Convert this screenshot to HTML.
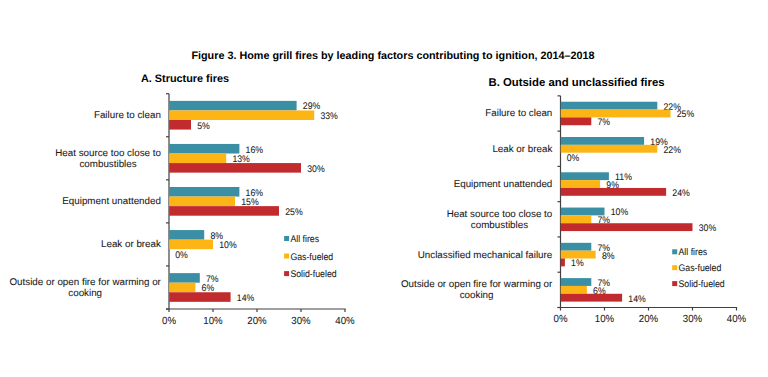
<!DOCTYPE html>
<html><head><meta charset="utf-8"><style>
html,body{margin:0;padding:0;background:#fff;width:768px;height:377px;overflow:hidden}
svg{display:block}
text{font-family:"Liberation Sans",sans-serif;text-rendering:geometricPrecision}
text.r{stroke:#1a1a1a;stroke-width:0.07px}
</style></head><body>
<svg width="768" height="377" viewBox="0 0 768 377">
<text x="393.00" y="58.60" font-size="10.8" text-anchor="middle" font-weight="bold" fill="#000" >Figure 3. Home grill fires by leading factors contributing to ignition, 2014–2018</text>
<text x="185.00" y="81.80" font-size="10.87" text-anchor="middle" font-weight="bold" fill="#000" >A. Structure fires</text>
<text x="576.50" y="86.30" font-size="11.37" text-anchor="middle" font-weight="bold" fill="#000" >B. Outside and unclassified fires</text>
<line x1="169.00" y1="93.70" x2="169.00" y2="312.00" stroke="#404040" stroke-width="1.2"/>
<line x1="166.00" y1="309.00" x2="345.60" y2="309.00" stroke="#404040" stroke-width="1.2"/>
<line x1="166.00" y1="93.70" x2="169.00" y2="93.70" stroke="#404040" stroke-width="1.2"/>
<line x1="166.00" y1="136.76" x2="169.00" y2="136.76" stroke="#404040" stroke-width="1.2"/>
<line x1="166.00" y1="179.82" x2="169.00" y2="179.82" stroke="#404040" stroke-width="1.2"/>
<line x1="166.00" y1="222.88" x2="169.00" y2="222.88" stroke="#404040" stroke-width="1.2"/>
<line x1="166.00" y1="265.94" x2="169.00" y2="265.94" stroke="#404040" stroke-width="1.2"/>
<line x1="166.00" y1="309.00" x2="169.00" y2="309.00" stroke="#404040" stroke-width="1.2"/>
<text class="r" transform="translate(169.00,323.80) scale(0.94,1)" font-size="10.3" text-anchor="middle" font-weight="normal" fill="#1a1a1a" >0%</text>
<line x1="213.00" y1="309.00" x2="213.00" y2="312.00" stroke="#404040" stroke-width="1.2"/>
<text class="r" transform="translate(213.00,323.80) scale(0.94,1)" font-size="10.3" text-anchor="middle" font-weight="normal" fill="#1a1a1a" >10%</text>
<line x1="257.00" y1="309.00" x2="257.00" y2="312.00" stroke="#404040" stroke-width="1.2"/>
<text class="r" transform="translate(257.00,323.80) scale(0.94,1)" font-size="10.3" text-anchor="middle" font-weight="normal" fill="#1a1a1a" >20%</text>
<line x1="301.00" y1="309.00" x2="301.00" y2="312.00" stroke="#404040" stroke-width="1.2"/>
<text class="r" transform="translate(301.00,323.80) scale(0.94,1)" font-size="10.3" text-anchor="middle" font-weight="normal" fill="#1a1a1a" >30%</text>
<line x1="345.00" y1="309.00" x2="345.00" y2="312.00" stroke="#404040" stroke-width="1.2"/>
<text class="r" transform="translate(345.00,323.80) scale(0.94,1)" font-size="10.3" text-anchor="middle" font-weight="normal" fill="#1a1a1a" >40%</text>
<rect x="169.20" y="100.88" width="127.40" height="9.57" fill="#3a8fa4"/>
<text class="r" transform="translate(302.80,109.46) scale(0.92,1)" font-size="9.5" text-anchor="start" font-weight="normal" fill="#1a1a1a" >29%</text>
<rect x="169.20" y="110.45" width="145.00" height="9.57" fill="#fdb515"/>
<text class="r" transform="translate(320.40,119.03) scale(0.92,1)" font-size="9.5" text-anchor="start" font-weight="normal" fill="#1a1a1a" >33%</text>
<rect x="169.20" y="120.01" width="21.80" height="9.57" fill="#c22b2e"/>
<text class="r" transform="translate(197.20,128.60) scale(0.92,1)" font-size="9.5" text-anchor="start" font-weight="normal" fill="#1a1a1a" >5%</text>
<text class="r" x="127.40" y="118.18" font-size="9.8" text-anchor="middle" font-weight="normal" fill="#1a1a1a" >Failure to clean</text>
<rect x="169.20" y="143.94" width="70.20" height="9.57" fill="#3a8fa4"/>
<text class="r" transform="translate(245.60,152.52) scale(0.92,1)" font-size="9.5" text-anchor="start" font-weight="normal" fill="#1a1a1a" >16%</text>
<rect x="169.20" y="153.51" width="57.00" height="9.57" fill="#fdb515"/>
<text class="r" transform="translate(232.40,162.09) scale(0.92,1)" font-size="9.5" text-anchor="start" font-weight="normal" fill="#1a1a1a" >13%</text>
<rect x="169.20" y="163.07" width="131.80" height="9.57" fill="#c22b2e"/>
<text class="r" transform="translate(307.20,171.66) scale(0.92,1)" font-size="9.5" text-anchor="start" font-weight="normal" fill="#1a1a1a" >30%</text>
<text class="r" x="108.06" y="155.67" font-size="9.8" text-anchor="middle" font-weight="normal" fill="#1a1a1a" >Heat source too close to</text>
<text class="r" x="108.06" y="166.81" font-size="9.8" text-anchor="middle" font-weight="normal" fill="#1a1a1a" >combustibles</text>
<rect x="169.20" y="187.00" width="70.20" height="9.57" fill="#3a8fa4"/>
<text class="r" transform="translate(245.60,195.58) scale(0.92,1)" font-size="9.5" text-anchor="start" font-weight="normal" fill="#1a1a1a" >16%</text>
<rect x="169.20" y="196.57" width="65.80" height="9.57" fill="#fdb515"/>
<text class="r" transform="translate(241.20,205.15) scale(0.92,1)" font-size="9.5" text-anchor="start" font-weight="normal" fill="#1a1a1a" >15%</text>
<rect x="169.20" y="206.13" width="109.80" height="9.57" fill="#c22b2e"/>
<text class="r" transform="translate(285.20,214.72) scale(0.92,1)" font-size="9.5" text-anchor="start" font-weight="normal" fill="#1a1a1a" >25%</text>
<text class="r" x="111.59" y="204.30" font-size="9.8" text-anchor="middle" font-weight="normal" fill="#1a1a1a" >Equipment unattended</text>
<rect x="169.20" y="230.06" width="35.00" height="9.57" fill="#3a8fa4"/>
<text class="r" transform="translate(210.40,238.64) scale(0.92,1)" font-size="9.5" text-anchor="start" font-weight="normal" fill="#1a1a1a" >8%</text>
<rect x="169.20" y="239.63" width="43.80" height="9.57" fill="#fdb515"/>
<text class="r" transform="translate(219.20,248.21) scale(0.92,1)" font-size="9.5" text-anchor="start" font-weight="normal" fill="#1a1a1a" >10%</text>
<text class="r" transform="translate(175.20,257.78) scale(0.92,1)" font-size="9.5" text-anchor="start" font-weight="normal" fill="#1a1a1a" >0%</text>
<text class="r" x="130.94" y="247.36" font-size="9.8" text-anchor="middle" font-weight="normal" fill="#1a1a1a" >Leak or break</text>
<rect x="169.20" y="273.12" width="30.60" height="9.57" fill="#3a8fa4"/>
<text class="r" transform="translate(206.00,281.70) scale(0.92,1)" font-size="9.5" text-anchor="start" font-weight="normal" fill="#1a1a1a" >7%</text>
<rect x="169.20" y="282.69" width="26.20" height="9.57" fill="#fdb515"/>
<text class="r" transform="translate(201.60,291.27) scale(0.92,1)" font-size="9.5" text-anchor="start" font-weight="normal" fill="#1a1a1a" >6%</text>
<rect x="169.20" y="292.25" width="61.40" height="9.57" fill="#c22b2e"/>
<text class="r" transform="translate(236.80,300.84) scale(0.92,1)" font-size="9.5" text-anchor="start" font-weight="normal" fill="#1a1a1a" >14%</text>
<text class="r" x="85.19" y="284.85" font-size="9.8" text-anchor="middle" font-weight="normal" fill="#1a1a1a" >Outside or open fire for warming or</text>
<text class="r" x="85.19" y="296.00" font-size="9.8" text-anchor="middle" font-weight="normal" fill="#1a1a1a" >cooking</text>
<rect x="284.10" y="236.00" width="5.00" height="5.00" fill="#3a8fa4"/>
<text class="r" transform="translate(290.40,242.00) scale(0.912,1)" font-size="9.6" text-anchor="start" font-weight="normal" fill="#1a1a1a" >All fires</text>
<rect x="284.10" y="253.55" width="5.00" height="5.00" fill="#fdb515"/>
<text class="r" transform="translate(290.40,259.55) scale(0.912,1)" font-size="9.6" text-anchor="start" font-weight="normal" fill="#1a1a1a" >Gas-fueled</text>
<rect x="284.10" y="271.10" width="5.00" height="5.00" fill="#c22b2e"/>
<text class="r" transform="translate(290.40,277.10) scale(0.912,1)" font-size="9.6" text-anchor="start" font-weight="normal" fill="#1a1a1a" >Solid-fueled</text>
<line x1="560.50" y1="95.85" x2="560.50" y2="310.50" stroke="#404040" stroke-width="1.2"/>
<line x1="557.50" y1="307.50" x2="737.10" y2="307.50" stroke="#404040" stroke-width="1.2"/>
<line x1="557.50" y1="95.85" x2="560.50" y2="95.85" stroke="#404040" stroke-width="1.2"/>
<line x1="557.50" y1="131.12" x2="560.50" y2="131.12" stroke="#404040" stroke-width="1.2"/>
<line x1="557.50" y1="166.40" x2="560.50" y2="166.40" stroke="#404040" stroke-width="1.2"/>
<line x1="557.50" y1="201.67" x2="560.50" y2="201.67" stroke="#404040" stroke-width="1.2"/>
<line x1="557.50" y1="236.95" x2="560.50" y2="236.95" stroke="#404040" stroke-width="1.2"/>
<line x1="557.50" y1="272.23" x2="560.50" y2="272.23" stroke="#404040" stroke-width="1.2"/>
<line x1="557.50" y1="307.50" x2="560.50" y2="307.50" stroke="#404040" stroke-width="1.2"/>
<text class="r" transform="translate(560.50,322.30) scale(0.94,1)" font-size="10.3" text-anchor="middle" font-weight="normal" fill="#1a1a1a" >0%</text>
<line x1="604.50" y1="307.50" x2="604.50" y2="310.50" stroke="#404040" stroke-width="1.2"/>
<text class="r" transform="translate(604.50,322.30) scale(0.94,1)" font-size="10.3" text-anchor="middle" font-weight="normal" fill="#1a1a1a" >10%</text>
<line x1="648.50" y1="307.50" x2="648.50" y2="310.50" stroke="#404040" stroke-width="1.2"/>
<text class="r" transform="translate(648.50,322.30) scale(0.94,1)" font-size="10.3" text-anchor="middle" font-weight="normal" fill="#1a1a1a" >20%</text>
<line x1="692.50" y1="307.50" x2="692.50" y2="310.50" stroke="#404040" stroke-width="1.2"/>
<text class="r" transform="translate(692.50,322.30) scale(0.94,1)" font-size="10.3" text-anchor="middle" font-weight="normal" fill="#1a1a1a" >30%</text>
<line x1="736.50" y1="307.50" x2="736.50" y2="310.50" stroke="#404040" stroke-width="1.2"/>
<text class="r" transform="translate(736.50,322.30) scale(0.94,1)" font-size="10.3" text-anchor="middle" font-weight="normal" fill="#1a1a1a" >40%</text>
<rect x="560.70" y="101.73" width="96.60" height="7.84" fill="#3a8fa4"/>
<text class="r" transform="translate(663.50,109.65) scale(0.92,1)" font-size="9.5" text-anchor="start" font-weight="normal" fill="#1a1a1a" >22%</text>
<rect x="560.70" y="109.57" width="109.80" height="7.84" fill="#fdb515"/>
<text class="r" transform="translate(676.70,117.49) scale(0.92,1)" font-size="9.5" text-anchor="start" font-weight="normal" fill="#1a1a1a" >25%</text>
<rect x="560.70" y="117.41" width="30.60" height="7.84" fill="#c22b2e"/>
<text class="r" transform="translate(597.50,125.33) scale(0.92,1)" font-size="9.5" text-anchor="start" font-weight="normal" fill="#1a1a1a" >7%</text>
<text class="r" x="518.80" y="116.44" font-size="9.8" text-anchor="middle" font-weight="normal" fill="#1a1a1a" >Failure to clean</text>
<rect x="560.70" y="137.00" width="83.40" height="7.84" fill="#3a8fa4"/>
<text class="r" transform="translate(650.30,144.92) scale(0.92,1)" font-size="9.5" text-anchor="start" font-weight="normal" fill="#1a1a1a" >19%</text>
<rect x="560.70" y="144.84" width="96.60" height="7.84" fill="#fdb515"/>
<text class="r" transform="translate(663.50,152.76) scale(0.92,1)" font-size="9.5" text-anchor="start" font-weight="normal" fill="#1a1a1a" >22%</text>
<text class="r" transform="translate(566.70,160.60) scale(0.92,1)" font-size="9.5" text-anchor="start" font-weight="normal" fill="#1a1a1a" >0%</text>
<text class="r" x="522.34" y="151.71" font-size="9.8" text-anchor="middle" font-weight="normal" fill="#1a1a1a" >Leak or break</text>
<rect x="560.70" y="172.28" width="48.20" height="7.84" fill="#3a8fa4"/>
<text class="r" transform="translate(615.10,180.20) scale(0.92,1)" font-size="9.5" text-anchor="start" font-weight="normal" fill="#1a1a1a" >11%</text>
<rect x="560.70" y="180.12" width="39.40" height="7.84" fill="#fdb515"/>
<text class="r" transform="translate(606.30,188.04) scale(0.92,1)" font-size="9.5" text-anchor="start" font-weight="normal" fill="#1a1a1a" >9%</text>
<rect x="560.70" y="187.96" width="105.40" height="7.84" fill="#c22b2e"/>
<text class="r" transform="translate(672.30,195.88) scale(0.92,1)" font-size="9.5" text-anchor="start" font-weight="normal" fill="#1a1a1a" >24%</text>
<text class="r" x="502.99" y="186.99" font-size="9.8" text-anchor="middle" font-weight="normal" fill="#1a1a1a" >Equipment unattended</text>
<rect x="560.70" y="207.55" width="43.80" height="7.84" fill="#3a8fa4"/>
<text class="r" transform="translate(610.70,215.47) scale(0.92,1)" font-size="9.5" text-anchor="start" font-weight="normal" fill="#1a1a1a" >10%</text>
<rect x="560.70" y="215.39" width="30.60" height="7.84" fill="#fdb515"/>
<text class="r" transform="translate(597.50,223.31) scale(0.92,1)" font-size="9.5" text-anchor="start" font-weight="normal" fill="#1a1a1a" >7%</text>
<rect x="560.70" y="223.23" width="131.80" height="7.84" fill="#c22b2e"/>
<text class="r" transform="translate(698.70,231.15) scale(0.92,1)" font-size="9.5" text-anchor="start" font-weight="normal" fill="#1a1a1a" >30%</text>
<text class="r" x="499.46" y="216.69" font-size="9.8" text-anchor="middle" font-weight="normal" fill="#1a1a1a" >Heat source too close to</text>
<text class="r" x="499.46" y="227.84" font-size="9.8" text-anchor="middle" font-weight="normal" fill="#1a1a1a" >combustibles</text>
<rect x="560.70" y="242.83" width="30.60" height="7.84" fill="#3a8fa4"/>
<text class="r" transform="translate(597.50,250.75) scale(0.92,1)" font-size="9.5" text-anchor="start" font-weight="normal" fill="#1a1a1a" >7%</text>
<rect x="560.70" y="250.67" width="35.00" height="7.84" fill="#fdb515"/>
<text class="r" transform="translate(601.90,258.59) scale(0.92,1)" font-size="9.5" text-anchor="start" font-weight="normal" fill="#1a1a1a" >8%</text>
<rect x="560.70" y="258.51" width="4.20" height="7.84" fill="#c22b2e"/>
<text class="r" transform="translate(571.10,266.43) scale(0.92,1)" font-size="9.5" text-anchor="start" font-weight="normal" fill="#1a1a1a" >1%</text>
<text class="r" x="485.03" y="257.54" font-size="9.8" text-anchor="middle" font-weight="normal" fill="#1a1a1a" >Unclassified mechanical failure</text>
<rect x="560.70" y="278.10" width="30.60" height="7.84" fill="#3a8fa4"/>
<text class="r" transform="translate(597.50,286.02) scale(0.92,1)" font-size="9.5" text-anchor="start" font-weight="normal" fill="#1a1a1a" >7%</text>
<rect x="560.70" y="285.94" width="26.20" height="7.84" fill="#fdb515"/>
<text class="r" transform="translate(593.10,293.86) scale(0.92,1)" font-size="9.5" text-anchor="start" font-weight="normal" fill="#1a1a1a" >6%</text>
<rect x="560.70" y="293.78" width="61.40" height="7.84" fill="#c22b2e"/>
<text class="r" transform="translate(628.30,301.70) scale(0.92,1)" font-size="9.5" text-anchor="start" font-weight="normal" fill="#1a1a1a" >14%</text>
<text class="r" x="476.59" y="287.24" font-size="9.8" text-anchor="middle" font-weight="normal" fill="#1a1a1a" >Outside or open fire for warming or</text>
<text class="r" x="476.59" y="298.39" font-size="9.8" text-anchor="middle" font-weight="normal" fill="#1a1a1a" >cooking</text>
<rect x="672.20" y="249.30" width="5.00" height="5.00" fill="#3a8fa4"/>
<text class="r" transform="translate(678.50,255.30) scale(0.912,1)" font-size="9.6" text-anchor="start" font-weight="normal" fill="#1a1a1a" >All fires</text>
<rect x="672.20" y="265.20" width="5.00" height="5.00" fill="#fdb515"/>
<text class="r" transform="translate(678.50,271.20) scale(0.912,1)" font-size="9.6" text-anchor="start" font-weight="normal" fill="#1a1a1a" >Gas-fueled</text>
<rect x="672.20" y="281.10" width="5.00" height="5.00" fill="#c22b2e"/>
<text class="r" transform="translate(678.50,287.10) scale(0.912,1)" font-size="9.6" text-anchor="start" font-weight="normal" fill="#1a1a1a" >Solid-fueled</text>
</svg>
</body></html>
